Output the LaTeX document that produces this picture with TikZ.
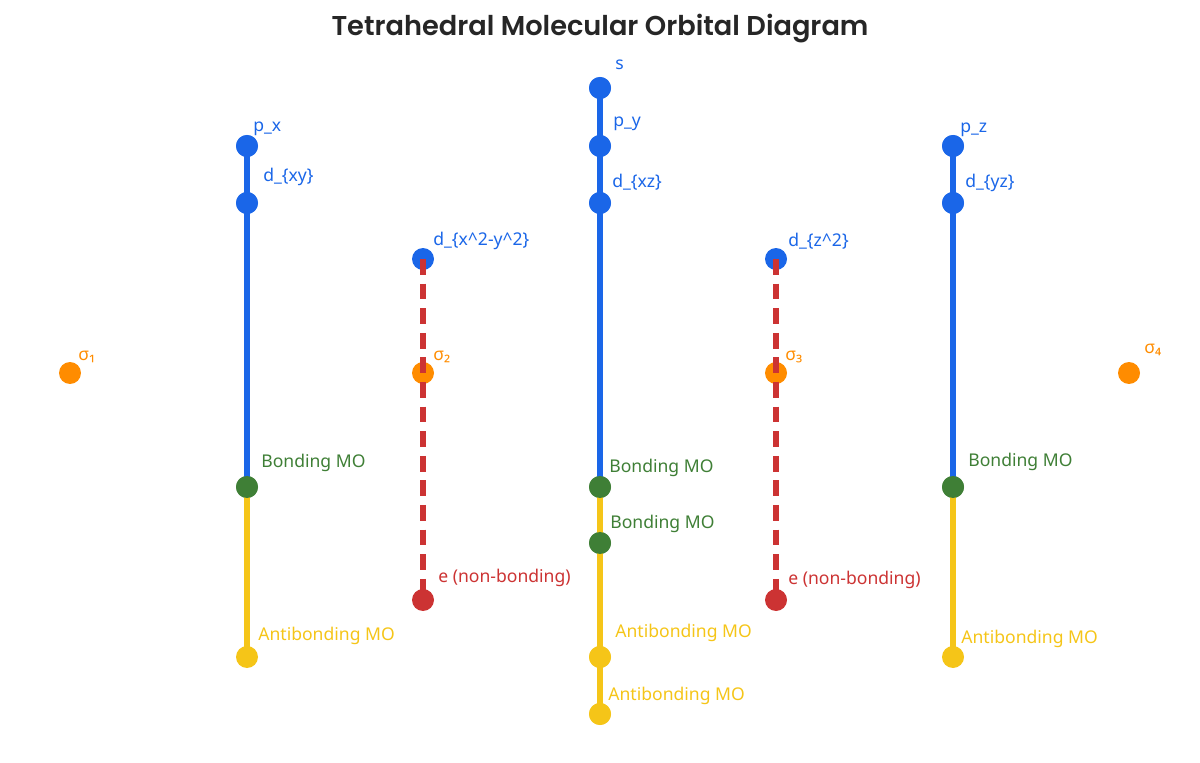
\documentclass[tikz,border=0pt]{standalone}
\usepackage{fontspec}
\setmainfont{Noto Sans}
\newfontfamily\titlefont{Poppins}[UprightFont=* SemiBold]
\begin{document}
\begin{tikzpicture}[x=0.02cm,y=-0.02cm,
 dot/.style={circle,fill=#1,minimum size=0.44cm,inner sep=0pt},
 lab/.style={text=#1,font=\fontsize{10}{12}\selectfont,anchor=west,inner sep=0pt},
 bl/.style={line width=3pt,draw=cblue},
 yl/.style={line width=3pt,draw=cyel},
 rl/.style={line width=3pt,draw=cred,dash pattern=on 9pt off 5pt}]
\definecolor{cblue}{HTML}{1A66E8}
\definecolor{cgreen}{HTML}{3F7F36}
\definecolor{cyel}{HTML}{F5C518}
\definecolor{cred}{HTML}{CC3333}
\definecolor{corg}{HTML}{FF8C00}
\useasboundingbox (0,0) rectangle (1200,763);
\node[font=\titlefont\fontsize{15.5}{18}\selectfont,text=black!85] (title) at (600,29) {Tetrahedral Molecular Orbital Diagram};
% left column
\node[dot=cblue] (px) at (247,146) {};
\node[dot=cblue] (dxy) at (247,203) {};
\node[dot=cgreen] (b1) at (247,487) {};
\node[dot=cyel] (a1) at (247,657) {};
\draw[yl] (b1.center) -- (a1.center);
\draw[bl] (px.center) -- (b1.center);
\node[dot=cblue] at (px) {};\node[dot=cblue] at (dxy) {};\node[dot=cgreen] at (b1) {};
\node[lab=cblue] (lpx) at (253,129) {p\_x};
\node[lab=cblue] (ldxy) at (263,177) {d\_\{xy\}};
\node[lab=cgreen] (lb1) at (261,463) {Bonding MO};
\node[lab=cyel] (la1) at (258,636) {Antibonding MO};
% center column
\node[dot=cblue] (s) at (600,88) {};
\node[dot=cblue] (py) at (600,146) {};
\node[dot=cblue] (dxz) at (600,203) {};
\node[dot=cgreen] (b2) at (600,487) {};
\node[dot=cgreen] (b3) at (600,543) {};
\node[dot=cyel] (a2) at (600,657) {};
\node[dot=cyel] (a3) at (600,714) {};
\draw[yl] (b2.center) -- (a3.center);
\draw[bl] (s.center) -- (b2.center);
\node[dot=cblue] at (s) {};\node[dot=cblue] at (py) {};\node[dot=cblue] at (dxz) {};
\node[dot=cgreen] at (b2) {};\node[dot=cgreen] at (b3) {};\node[dot=cyel] at (a2) {};\node[dot=cyel] at (a3) {};
\node[lab=cblue] (ls) at (615,65) {s};
\node[lab=cblue] (lpy) at (613,124) {p\_y};
\node[lab=cblue] (ldxz) at (612,182) {d\_\{xz\}};
\node[lab=cgreen] (lb2) at (609,468) {Bonding MO};
\node[lab=cgreen] (lb3) at (610,524) {Bonding MO};
\node[lab=cyel] (la2) at (615,633) {Antibonding MO};
\node[lab=cyel] (la3) at (608,696) {Antibonding MO};
% right column
\node[dot=cblue] (pz) at (953,146) {};
\node[dot=cblue] (dyz) at (953,203) {};
\node[dot=cgreen] (b4) at (953,487) {};
\node[dot=cyel] (a4) at (953,657) {};
\draw[yl] (b4.center) -- (a4.center);
\draw[bl] (pz.center) -- (b4.center);
\node[dot=cblue] at (pz) {};\node[dot=cblue] at (dyz) {};\node[dot=cgreen] at (b4) {};
\node[lab=cblue] (lpz) at (960,130) {p\_z};
\node[lab=cblue] (ldyz) at (965,183) {d\_\{yz\}};
\node[lab=cgreen] (lb4) at (968,462) {Bonding MO};
\node[lab=cyel] (la4) at (961,639) {Antibonding MO};
% dashed columns
\node[dot=cblue] (dx2) at (423,259) {};
\node[dot=corg] (s2) at (423,373) {};
\node[dot=cred] (e1) at (423,600) {};
\draw[rl] (dx2.center) -- (e1.center);
\node[dot=cblue] (dz2) at (776,259) {};
\node[dot=corg] (s3) at (776,373) {};
\node[dot=cred] (e2) at (776,600) {};
\draw[rl] (dz2.center) -- (e2.center);
\node[lab=cblue] (ldx2) at (433,241) {d\_\{x\^{}2-y\^{}2\}};
\node[lab=corg] (ls2) at (433,357) {σ₂};
\node[lab=cred] (le1) at (438,578) {e (non-bonding)};
\node[lab=cblue] (ldz2) at (788,241) {d\_\{z\^{}2\}};
\node[lab=corg] (ls3) at (785,357) {σ₃};
\node[lab=cred] (le2) at (788,580) {e (non-bonding)};
% sigma 1,4
\node[dot=corg] (s1) at (70,373) {};
\node[dot=corg] (s4) at (1129,373) {};
\node[lab=corg] (ls1) at (78,357) {σ₁};
\node[lab=corg] (ls4) at (1144,350) {σ₄};
\end{tikzpicture}
\end{document}
